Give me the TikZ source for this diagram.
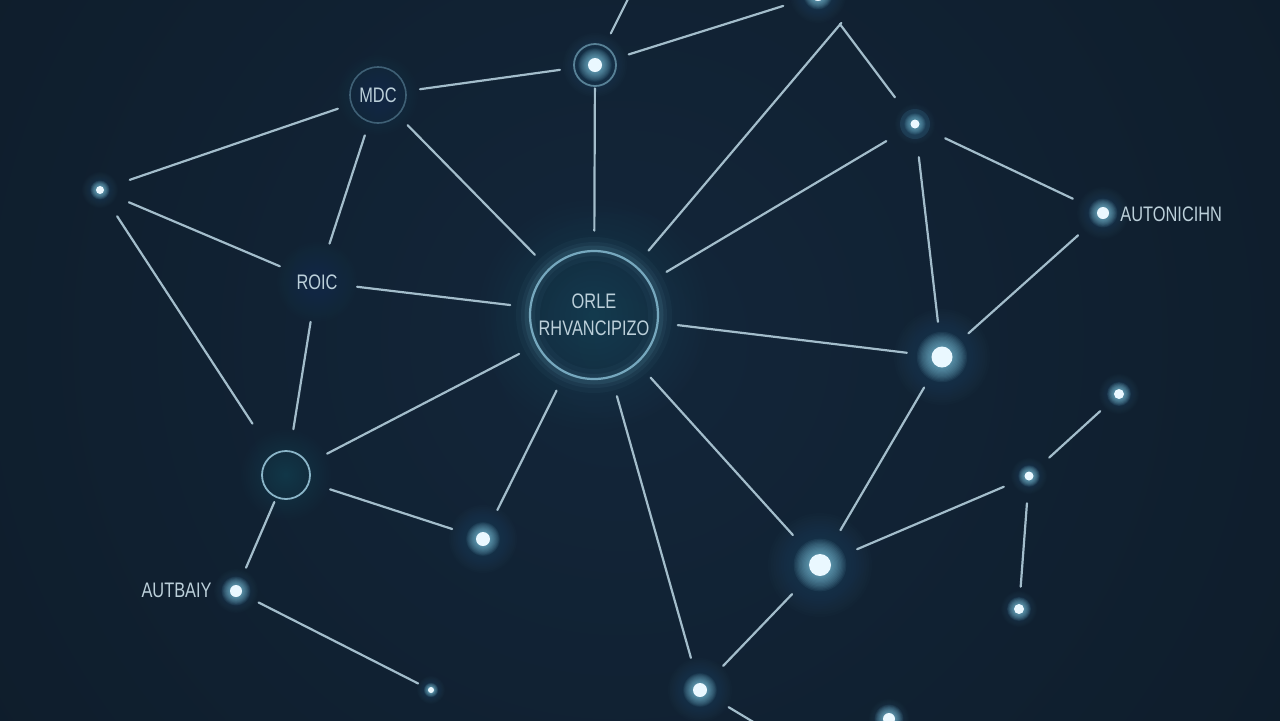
\documentclass[tikz,border=0pt]{standalone}
\usepackage{fontspec}
\newfontfamily\lblfont[FakeStretch=0.78]{Liberation Sans}
\definecolor{bgin}{HTML}{13263A}
\definecolor{bgout}{HTML}{09131B}
\definecolor{linkc}{HTML}{A3BDCB}
\definecolor{corec}{HTML}{EAF8FF}
\definecolor{glowc}{HTML}{8ED6EE}
\definecolor{haloc}{HTML}{3E7A96}
\definecolor{ringc}{HTML}{76A8BE}
\definecolor{textc}{HTML}{BCD0DA}
\pgfdeclarelayer{bg}\pgfdeclarelayer{glow}\pgfsetlayers{bg,glow,main}
\tikzset{
  hub/.style={circle, inner sep=0pt, minimum size=#1, text=textc,
    font=\lblfont\fontsize{10.5}{13.5}\selectfont},
  lbl/.style={inner sep=0pt, text=textc, font=\lblfont\fontsize{10.5}{13.5}\selectfont},
  link/.style={draw=linkc, line width=1.1pt, line cap=round},
}
\newcommand\softglow[4]{\foreach \k in {1,...,20}{\fill[#3, fill opacity=#4] #1 circle ({#2*\k/20});}}
\newcommand\gdot[3]{\softglow{(#1)}{#3}{haloc}{0.022}\softglow{(#1)}{#2*2.4}{glowc}{0.065}}
\newcommand\gcore[2]{\fill[corec] (#1) circle (#2);}
\begin{document}
\begin{tikzpicture}[x=0.5pt,y=-0.5pt]
\useasboundingbox (0,0) rectangle (1280,720);
\begin{pgfonlayer}{bg}
  \clip (0,0) rectangle (1280,720);
  \shade[inner color=bgin, outer color=bgout] (620,340) circle (1600);
\end{pgfonlayer}
% nodes
\node[hub=31pt] (l) at (100,190) {};
\node[hub=42pt] (mdc) at (378,95) {MDC};
\node[hub=35pt] (t1) at (595,65) {};
\node[hub=36pt] (t2) at (818,-5) {};
\node[hub=33pt] (n3) at (915,124) {};
\node[hub=33pt] (aut) at (1103,213) {};
\node[lbl, anchor=west] (autlbl) at (1120,214) {AUTONICIHN};
\node[hub=35pt] (b) at (942,357) {};
\node[hub=40pt] (roic) at (317,282) {ROIC};
\node[hub=84pt, align=center] (c) at (594,315) {ORLE\\RHVANCIPIZO};
\node[hub=46pt] (o) at (286,475) {};
\node[hub=25pt] (autb) at (236,591) {};
\node[lbl, anchor=east] (autblbl) at (212,590) {AUTBAIY};
\node[hub=32pt] (m) at (483,539) {};
\node[hub=14pt] (n) at (431,690) {};
\node[hub=40pt] (r) at (820,565) {};
\node[hub=33pt] (p) at (700,690) {};
\node[hub=20pt] (q) at (889,719) {};
\node[hub=25pt] (s1) at (1119,394) {};
\node[hub=27pt] (s2) at (1029,476) {};
\node[hub=22pt] (s3) at (1019,609) {};
\coordinate (offa) at (640,-25);
\coordinate (offb) at (800,750);
% glows
\begin{pgfonlayer}{glow}
  \softglow{(c)}{115}{haloc}{0.014}
  \foreach \w/\op in {12/0.035,7/0.05,3.5/0.08}{\draw[glowc, line width=\w pt, opacity=\op] (c) circle (66);}
  \softglow{(mdc)}{40}{haloc}{0.012}
  \softglow{(roic)}{40}{haloc}{0.011}
  \softglow{(o)}{45}{haloc}{0.018}
  \gdot{l}{4}{18}
  \gdot{t1}{7}{32}
  \gdot{t2}{6}{28}
  \gdot{n3}{4.5}{20}
  \fill[haloc, fill opacity=0.22] (n3) circle (15);
  \gdot{aut}{6}{26}
  \gdot{b}{10.5}{48}
  \gdot{autb}{6}{22}
  \gdot{m}{7}{34}
  \gdot{n}{3}{14}
  \gdot{r}{11}{52}
  \gdot{p}{7}{32}
  \gdot{q}{6}{20}
  \gdot{s1}{5}{20}
  \gdot{s2}{4.5}{18}
  \gdot{s3}{5}{18}
\end{pgfonlayer}
% connectors
\draw[link] (l) -- (mdc);
\draw[link] (l) -- (roic);
\draw[link, shorten >=7.5pt] (l) -- (o);
\draw[link] (mdc) -- (t1);
\draw[link] (mdc) -- (roic);
\draw[link] (mdc) -- (c);
\draw[link] (roic) -- (c);
\draw[link] (roic) -- (o);
\draw[link, shorten <=-6pt] (t1) -- (c);
\draw[link] (t1) -- (t2);
\draw[link] (t1) -- (offa);
\draw[link] (t2.-50) -- (c);
\draw[link] (t2) -- (n3);
\draw[link] (n3) -- (c);
\draw[link] (n3) -- (aut);
\draw[link] (n3) -- (b);
\draw[link] (aut) -- (b);
\draw[link] (c) -- (b);
\draw[link] (b) -- (r);
\draw[link] (c) -- (r);
\draw[link] (c) -- (p);
\draw[link] (c) -- (m);
\draw[link] (c) -- (o);
\draw[link] (o) -- (m);
\draw[link, shorten <=-8.5pt] (o) -- (autb);
\draw[link] (autb) -- (n);
\draw[link] (r) -- (p);
\draw[link] (r) -- (s2);
\draw[link] (s2) -- (s1);
\draw[link] (s2) -- (s3);
\draw[link] (p) -- (offb);
% rings
\draw[ringc, line width=1.1pt] (c) circle (64);
\draw[ringc!45!bgin, line width=0.8pt] (mdc) circle (28);
\draw[ringc!70!bgin, line width=0.9pt] (t1) circle (21);
\draw[ringc!85!white, line width=0.9pt] (o) circle (24);
% cores
\gcore{l}{4}
\gcore{t1}{7}
\gcore{t2}{6}
\gcore{n3}{4.5}
\gcore{aut}{6}
\gcore{b}{10.5}
\gcore{autb}{6}
\gcore{m}{7}
\gcore{n}{3}
\gcore{r}{11}
\gcore{p}{7}
\gcore{q}{6}
\gcore{s1}{5}
\gcore{s2}{4.5}
\gcore{s3}{5}
\end{tikzpicture}
\end{document}
